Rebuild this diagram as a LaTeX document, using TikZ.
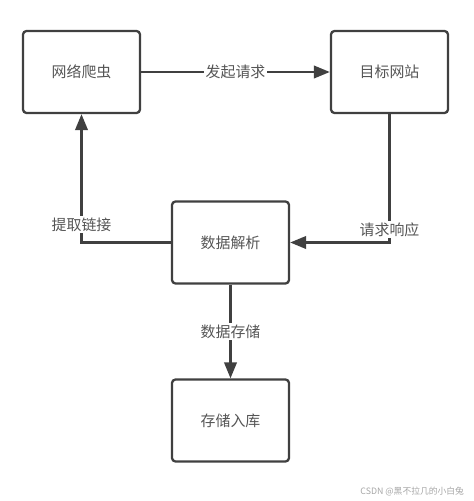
\documentclass[tikz,border=0pt]{standalone}
\usepackage{fontspec}
\newfontfamily\cjk{Noto Sans CJK SC}
\usetikzlibrary{arrows.meta}
\definecolor{linegray}{HTML}{404040}
\definecolor{textgray}{HTML}{555555}
\begin{document}
\begin{tikzpicture}[>={Triangle[length=0.32cm,width=0.25cm]}, line width=1.3pt, draw=linegray, main node/.style={rectangle,rounded corners=2pt,draw=linegray,minimum width=2.34cm,minimum height=1.64cm,font=\cjk\fontsize{8.5}{10}\selectfont,text=textgray}, edge label/.style={fill=white,inner sep=1pt,font=\cjk\fontsize{8.5}{10}\selectfont,text=textgray}]
                \useasboundingbox (0,0) rectangle (9.48,-10.02);
                \node[main node] at (1.63, -1.44) (1) {网络爬虫};
                \node[main node] at (7.79, -1.44) (2) {目标网站};
                \node[main node] at (4.61, -4.85) (3) {数据解析};
                \node[main node] at (4.61, -8.41) (4) {存储入库};

            \draw[->, linegray] (1) -- node[edge label] {发起请求} (2);
            \draw[->, linegray] (2) |- node[edge label, pos=0.45] {请求响应} (3);
            \draw[->, linegray] (3) -| node[edge label, pos=0.57] {提取链接} (1);
            \draw[->, linegray] (3) -- node[edge label] {数据存储} (4);

            \node[anchor=east, font=\cjk\fontsize{5}{6}\selectfont, text=black!35] at (9.42, -9.84) (mark) {CSDN @黑不拉几的小白兔};
            \end{tikzpicture}
\end{document}
